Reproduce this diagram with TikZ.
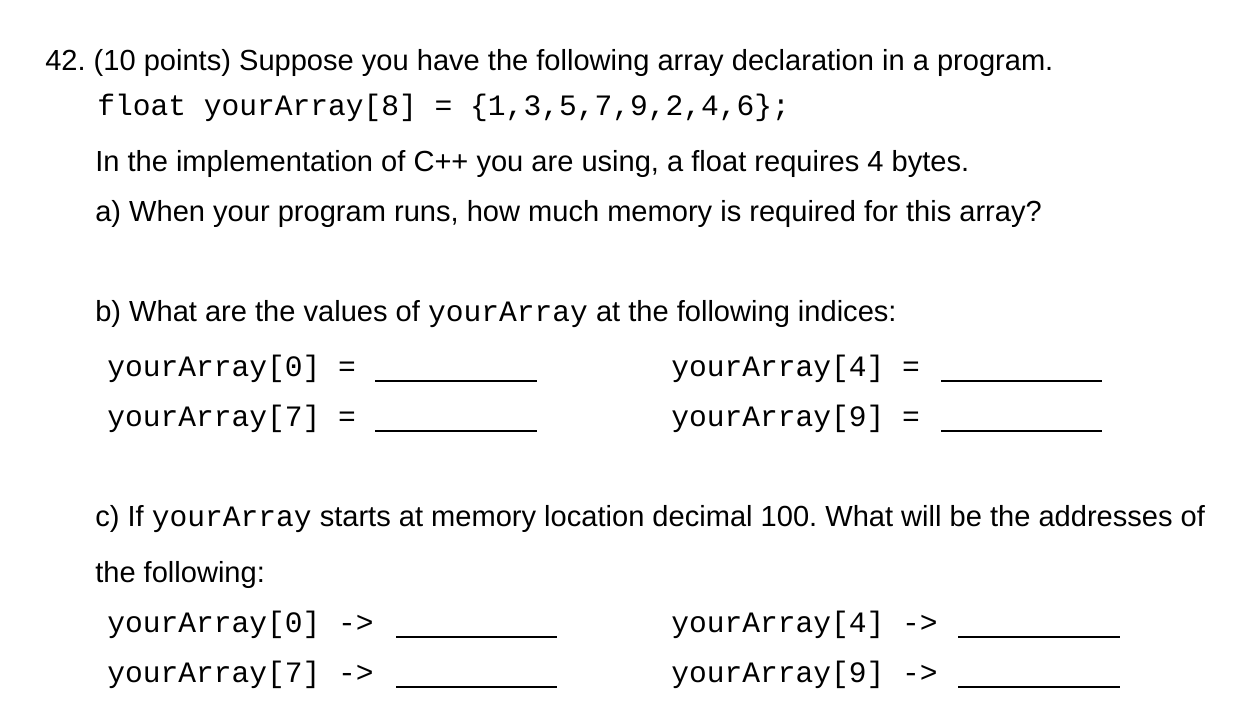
\documentclass[tikz,border=0pt]{standalone}
\usepackage{fontspec}
\setmainfont{Liberation Sans}
\setmonofont{Liberation Mono}
\frenchspacing
\begin{document}
\begin{tikzpicture}[x=0.75pt,y=-0.75pt,
  txt/.style={anchor=base west,inner sep=0pt,font=\fontsize{21.8pt}{24pt}\selectfont},
  code/.style={anchor=base west,inner sep=0pt,font=\ttfamily\fontsize{22.2pt}{24pt}\selectfont},
  blank/.style={line width=0.9pt}]
\useasboundingbox[fill=white] (0,0) rectangle (1246,709);
\node[txt] (l1) at (45,71) {42. (10 points) Suppose you have the following array declaration in a program.};
\node[code] (l2) at (97,116) {float yourArray[8] = \{1,3,5,7,9,2,4,6\};};
\node[txt] (l3) at (95,172) {In the implementation of C++ you are using, a float requires 4 bytes.};
\node[txt] (l4) at (95,222) {a) When your program runs, how much memory is required for this array?};
\node[txt] (l5) at (95,322) {b) What are the values of \texttt{\fontsize{22.2pt}{24pt}\selectfont yourArray} at the following indices:};
\node[code] (b0) at (107,376) {yourArray[0] =};
\node[code] (b4) at (671,376) {yourArray[4] =};
\node[code] (b7) at (107,426) {yourArray[7] =};
\node[code] (b9) at (671,426) {yourArray[9] =};
\draw[blank] (375,381) -- (537,381);
\draw[blank] (941,381) -- (1102,381);
\draw[blank] (375,431) -- (537,431);
\draw[blank] (941,431) -- (1102,431);
\node[txt] (c1) at (95,526) {c) If \texttt{\fontsize{22.2pt}{24pt}\selectfont yourArray} starts at memory location decimal 100. What will be the addresses of};
\node[txt] (c2) at (95,582) {the following:};
\node[code] (d0) at (107,632) {yourArray[0] ->};
\node[code] (d4) at (671,632) {yourArray[4] ->};
\node[code] (d7) at (107,682) {yourArray[7] ->};
\node[code] (d9) at (671,682) {yourArray[9] ->};
\draw[blank] (396,637) -- (557,637);
\draw[blank] (958,637) -- (1120,637);
\draw[blank] (396,687) -- (557,687);
\draw[blank] (958,687) -- (1120,687);
\end{tikzpicture}
\end{document}
